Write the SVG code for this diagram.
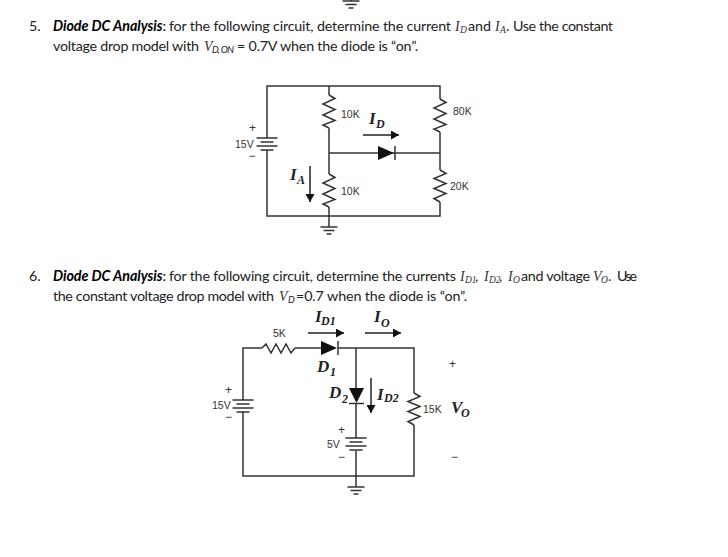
<svg xmlns="http://www.w3.org/2000/svg" width="728" height="557" viewBox="0 0 728 557">
<style>
.t{font-family:"Lato","Open Sans",sans-serif;font-size:14.3px;fill:#222}
.b{font-weight:700;font-style:italic;fill:#000}
.m{font-family:"Liberation Serif",serif;font-style:italic;font-size:14px;fill:#333}
.ms{font-family:"Liberation Serif",serif;font-style:italic;font-size:9.5px;fill:#333}
.vs{font-family:"Lato",sans-serif;font-style:italic;font-size:9.5px;fill:#222}
.l{font-family:"Liberation Sans",Arial,sans-serif;font-size:10.5px;fill:#333}
.s{font-family:"Liberation Sans",Arial,sans-serif;font-size:12px;fill:#333}
.I{font-family:"Liberation Serif",serif;font-style:italic;font-weight:700;font-size:17px;fill:#222}
.Is{font-family:"Liberation Serif",serif;font-style:italic;font-weight:700;font-size:12px;fill:#222}
.w{fill:none;stroke:#333;stroke-width:1.5}
.r{fill:none;stroke:#333;stroke-width:1.5;stroke-linejoin:miter}
.p{stroke:#333;stroke-width:1.5}
.f{fill:#111;stroke:none}
.a{fill:none;stroke:#222;stroke-width:1.5;marker-end:url(#ah)}
</style>
<defs>
<marker id="ah" markerUnits="userSpaceOnUse" markerWidth="9" markerHeight="9" refX="8" refY="4.5" orient="auto"><path d="M0 0L8 4.5L0 9z" fill="#111"/></marker>
<g id="gnd"><path class="p" d="M-8.5 0H8.5M-5.5 3.5H5.5M-2.5 7H2.5"/></g>
<g id="bat"><path class="p" d="M-10.5 0H10.5M-6.5 4H6.5M-10.5 8H10.5M-6.5 12H6.5"/></g>
</defs>
<rect width="728" height="557" fill="#fff"/>

<g id="question-5">
<text class="t" x="29" y="31">5.</text>
<text class="t b" x="53" y="31" textLength="113" lengthAdjust="spacing">Diode DC Analysis<tspan font-style="normal" font-weight="400">:</tspan></text>
<text class="t" x="169" y="31" textLength="282" lengthAdjust="spacing">for the following circuit, determine the current</text>
<text class="m" x="455" y="31">I</text><text class="ms" x="460" y="33">D</text>
<text class="t" x="468" y="31" textLength="23" lengthAdjust="spacing">and</text>
<text class="m" x="495" y="31">I</text><text class="ms" x="500" y="33">A</text>
<text class="t" x="506" y="31">.</text>
<text class="t" x="513" y="31" textLength="100" lengthAdjust="spacing">Use the constant</text>
<text class="t" x="53" y="51" textLength="146" lengthAdjust="spacing">voltage drop model with</text>
<text class="m" x="204" y="51">V</text><text class="vs" x="212" y="53" textLength="22" lengthAdjust="spacing">D, ON</text>
<text class="t" x="237" y="51" textLength="181" lengthAdjust="spacing">= 0.7V when the diode is “on”.</text>
</g>

<g id="question-6">
<text class="t" x="29" y="281">6.</text>
<text class="t b" x="53" y="281" textLength="113" lengthAdjust="spacing">Diode DC Analysis<tspan font-style="normal" font-weight="400">:</tspan></text>
<text class="t" x="169" y="281" textLength="287" lengthAdjust="spacing">for the following circuit, determine the currents</text>
<text class="m" x="460" y="281">I</text><text class="ms" x="465" y="283">D1</text><text class="t" x="475" y="281">,</text>
<text class="m" x="484" y="281">I</text><text class="ms" x="489" y="283">D2</text><text class="t" x="499" y="281">,</text>
<text class="m" x="508" y="281">I</text><text class="ms" x="513" y="283">O</text>
<text class="t" x="521" y="281" textLength="69" lengthAdjust="spacing">and voltage</text>
<text class="m" x="593" y="281">V</text><text class="ms" x="601" y="283">O</text><text class="t" x="608" y="281">.</text>
<text class="t" x="617" y="281" textLength="20" lengthAdjust="spacing">Use</text>
<text class="t" x="53" y="301" textLength="221" lengthAdjust="spacing">the constant voltage drop model with</text>
<text class="m" x="279" y="301">V</text><text class="vs" x="288" y="303">D</text>
<text class="t" x="296" y="301" textLength="171" lengthAdjust="spacing">=0.7 when the diode is “on”.</text>
</g>

<g id="top-ground"><path class="p" d="M351 0V1"/><use href="#gnd" x="351" y="1"/></g>

<g id="connectors">
<path class="w" d="M267 138V86H440V99M329 86V95M329 128V174M329 153H440M440 132V170M440 202V216H267V150M329 207V227"/>
<path class="w" d="M243 400V348H262M295 348H321M338 348H414V393M356 348V388M356 403V438M356 451V487M414 425V476H243V412"/>
<path class="a" d="M363 135H399"/>
<path class="a" d="M310 166V202"/>
<path class="a" d="M308 333H344"/>
<path class="a" d="M365 333H401"/>
<path class="a" d="M371 378V413"/>
</g>

<g id="battery-15v-1"><use href="#bat" x="267" y="138"/>
<text class="l" x="235" y="148">15V</text><text class="s" x="249" y="132">+</text><text class="s" x="248.500" y="160">−</text></g>
<g id="ground-1"><use href="#gnd" x="329" y="227"/></g>
<g id="r-10k-top"><path class="r" d="M329 95L335 98.500L323 104L335 109.500L323 115L335 120.500L323 125L329 128"/><text class="l" x="341" y="118">10K</text></g>
<g id="r-10k-bottom"><path class="r" d="M329 174L335 177.500L323 183L335 188.500L323 194L335 199.500L323 204L329 207"/><text class="l" x="341" y="195">10K</text></g>
<g id="r-80k"><path class="r" d="M440 99L446 102.500L434 108L446 113.500L434 119L446 124.500L434 129L440 132"/><text class="l" x="453" y="115">80K</text></g>
<g id="r-20k"><path class="r" d="M440 170L446 173.500L434 178.500L446 183.500L434 188.500L446 193.500L434 198.500L440 202"/><text class="l" x="450" y="190">20K</text></g>
<g id="diode-1"><path class="f" d="M378 146L394 153L378 160z"/><path class="p" d="M395 146V160"/></g>
<g id="label-id"><text class="I" x="369" y="124">I</text><text class="Is" x="376" y="128">D</text></g>
<g id="label-ia"><text class="I" x="290" y="180">I</text><text class="Is" x="297" y="184">A</text></g>

<g id="battery-15v-2"><use href="#bat" x="243" y="400"/>
<text class="l" x="212" y="409">15V</text><text class="s" x="225" y="394">+</text><text class="s" x="225" y="421">−</text></g>
<g id="r-5k"><path class="r" d="M262 348L266 344L271 353L276 344L281 353L286 344L291 353L295 348"/><text class="l" x="273" y="337">5K</text></g>
<g id="diode-d1"><path class="f" d="M321 341L337 348L321 355z"/><path class="p" d="M338 341V355"/>
<text class="I" x="317" y="372">D</text><text class="Is" x="330" y="376">1</text></g>
<g id="diode-d2"><path class="f" d="M349 388H364L356.500 403z"/><path class="p" d="M349 403.500H364"/>
<text class="I" x="329" y="398">D</text><text class="Is" x="342" y="403">2</text></g>
<g id="label-id1"><text class="I" x="315" y="322">I</text><text class="Is" x="321" y="325">D1</text></g>
<g id="label-io"><text class="I" x="374" y="322">I</text><text class="Is" x="381" y="327">O</text></g>
<g id="label-id2"><text class="I" x="377" y="400">I</text><text class="Is" x="384" y="402">D2</text></g>
<g id="battery-5v"><use href="#bat" x="356" y="438"/>
<text class="l" x="327" y="448">5V</text><text class="s" x="338" y="434">+</text><text class="s" x="338" y="461">−</text></g>
<g id="ground-2"><use href="#gnd" x="356" y="487"/></g>
<g id="r-15k"><path class="r" d="M414 393L420 396.500L408 401.500L420 406.500L408 411.500L420 416.500L408 421.500L414 425"/><text class="l" x="423" y="413">15K</text></g>
<g id="label-vo"><text class="s" x="449" y="368">+</text><text class="I" x="451" y="413">V</text><text class="Is" x="461" y="417">O</text><text class="s" x="451" y="461">−</text></g>
</svg>
